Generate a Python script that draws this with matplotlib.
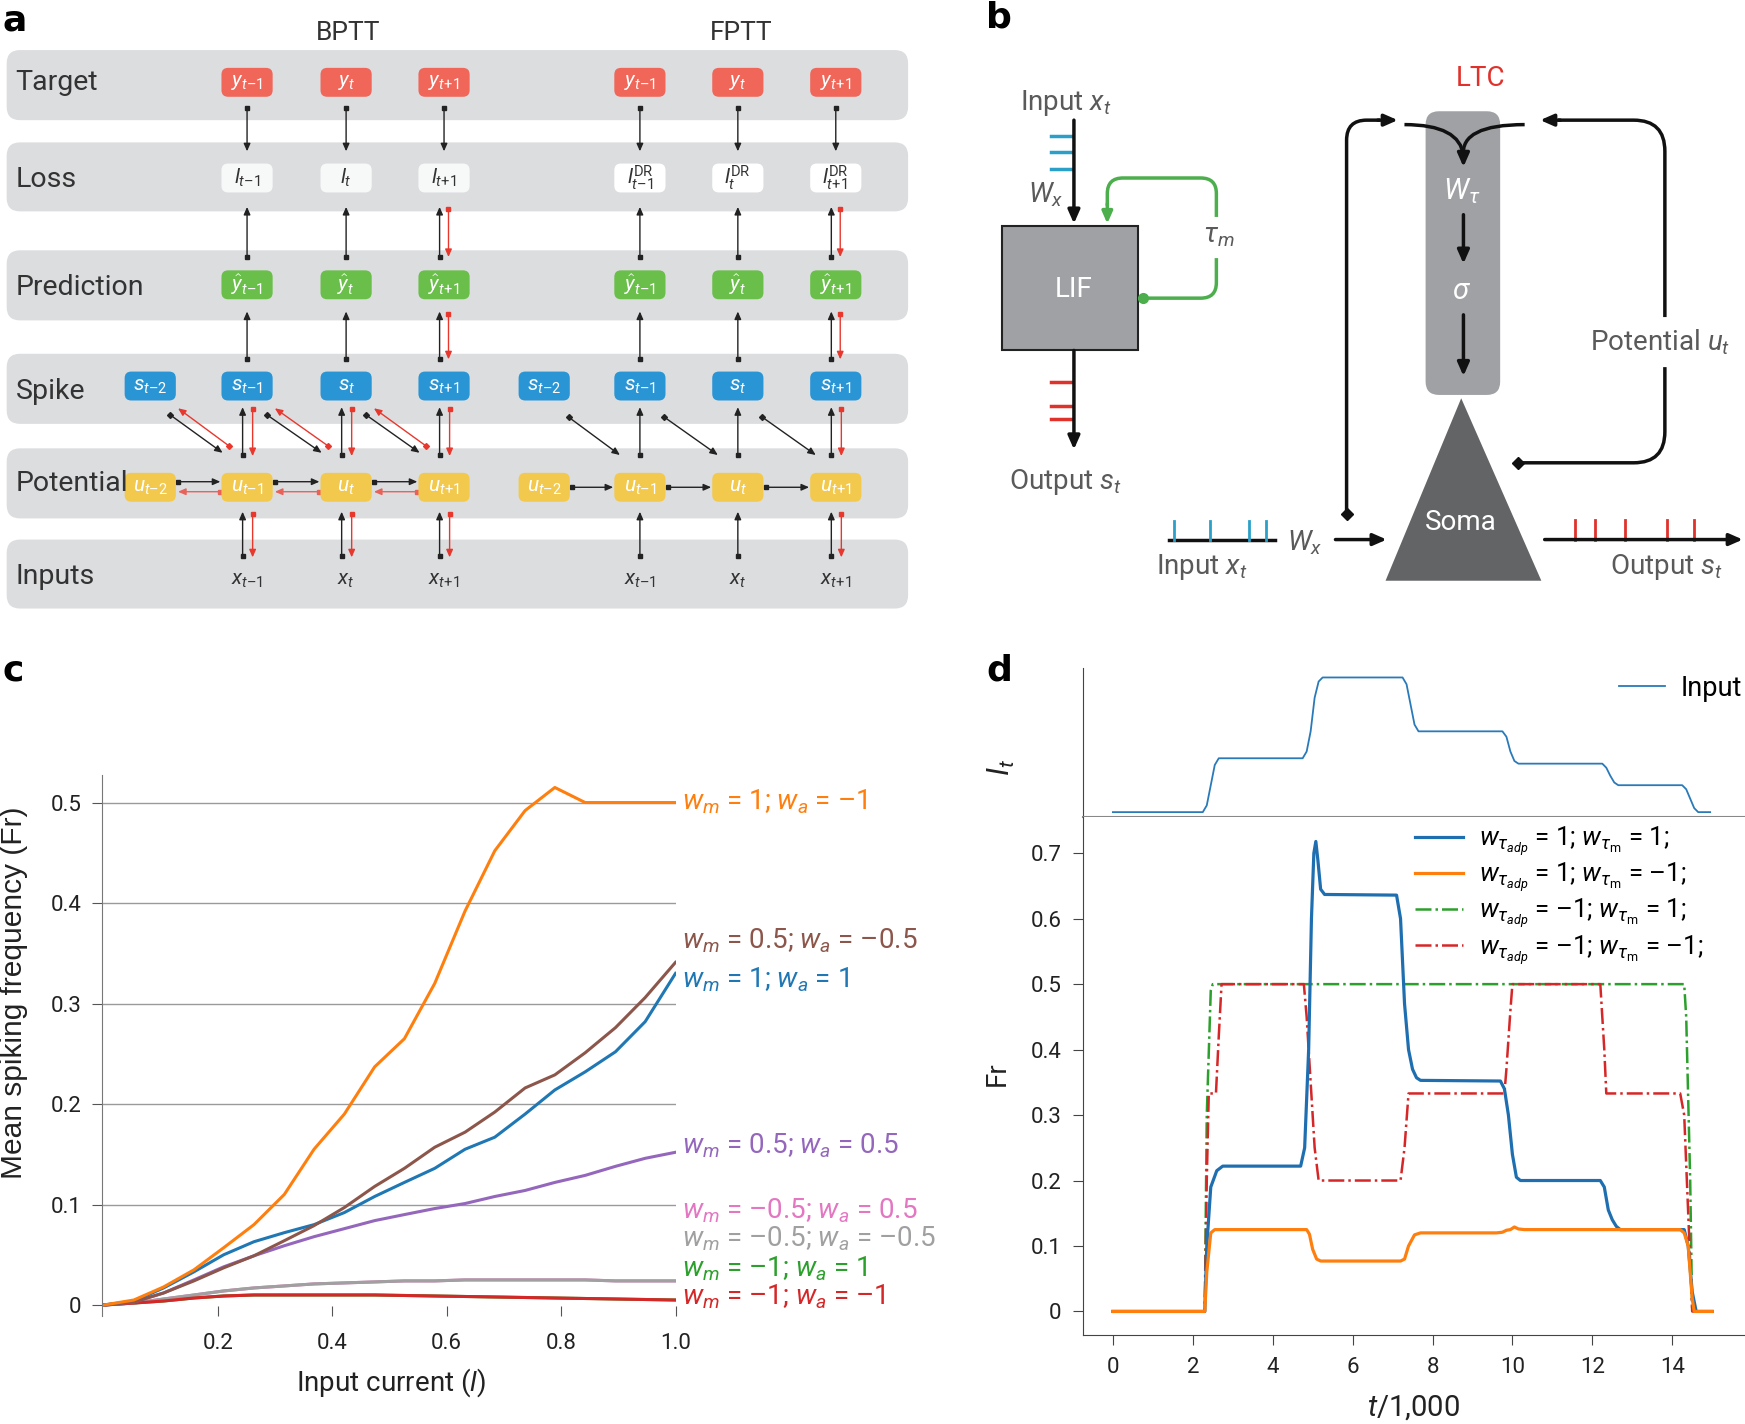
import numpy as np
import matplotlib
matplotlib.use("Agg")
import matplotlib.pyplot as plt
from matplotlib.patches import FancyBboxPatch, Rectangle, Polygon, PathPatch
from matplotlib.path import Path

plt.rcParams["font.family"] = ["Roboto", "DejaVu Sans"]
plt.rcParams["mathtext.fontset"] = "custom"
plt.rcParams["mathtext.rm"] = "Roboto"
plt.rcParams["mathtext.it"] = "Roboto:italic"
plt.rcParams["mathtext.bf"] = "Roboto:bold"

# ---------------- data: panel c ----------------
current = [0.0, 0.053, 0.105, 0.158, 0.21, 0.263, 0.316, 0.368, 0.421, 0.474,
           0.526, 0.579, 0.632, 0.684, 0.737, 0.789, 0.842, 0.895, 0.947, 1.0]
fr_m1_a_m1h = [0, 0.005, 0.018, 0.035, 0.057, 0.08, 0.11, 0.155, 0.19, 0.237,
               0.265, 0.32, 0.392, 0.452, 0.492, 0.515, 0.50, 0.50, 0.50, 0.50]
fr_m05_a_m05 = [0, 0.003, 0.012, 0.024, 0.037, 0.049, 0.064, 0.079, 0.097, 0.118,
                0.136, 0.157, 0.172, 0.192, 0.216, 0.229, 0.251, 0.276, 0.306, 0.341]
fr_m1_a1 = [0, 0.004, 0.017, 0.033, 0.05, 0.063, 0.072, 0.08, 0.092, 0.108,
            0.122, 0.136, 0.155, 0.167, 0.19, 0.214, 0.232, 0.252, 0.282, 0.33]
fr_m05_a05 = [0, 0.003, 0.012, 0.025, 0.038, 0.049, 0.059, 0.068, 0.076, 0.084,
              0.09, 0.096, 0.101, 0.108, 0.114, 0.122, 0.129, 0.138, 0.146, 0.152]
fr_mn05_a05 = [0, 0.002, 0.006, 0.010, 0.014, 0.017, 0.019, 0.021, 0.022, 0.023,
               0.024, 0.024, 0.025, 0.025, 0.025, 0.025, 0.025, 0.024, 0.024, 0.024]
fr_mn05_an05 = [0, 0.002, 0.006, 0.010, 0.014, 0.017, 0.019, 0.021, 0.022, 0.023,
                0.024, 0.024, 0.025, 0.025, 0.025, 0.025, 0.025, 0.024, 0.024, 0.024]
fr_mn1_a1 = [0, 0.002, 0.004, 0.007, 0.009, 0.010, 0.010, 0.010, 0.010, 0.010,
             0.0095, 0.009, 0.0085, 0.008, 0.0075, 0.007, 0.0065, 0.006, 0.0055, 0.005]
fr_mn1_an1 = [0, 0.002, 0.004, 0.007, 0.009, 0.010, 0.010, 0.010, 0.010, 0.010,
              0.0095, 0.009, 0.0085, 0.008, 0.0075, 0.007, 0.0065, 0.006, 0.0055, 0.005]

c_series = [
    (fr_mn05_a05, "#e377c2", r"$w_m$ = –0.5; $w_a$ = 0.5"),
    (fr_mn1_a1, "#2ca02c", r"$w_m$ = –1; $w_a$ = 1"),
    (fr_mn05_an05, "#a0a0a0", r"$w_m$ = –0.5; $w_a$ = –0.5"),
    (fr_mn1_an1, "#d62728", r"$w_m$ = –1; $w_a$ = –1"),
    (fr_m05_a05, "#9467bd", r"$w_m$ = 0.5; $w_a$ = 0.5"),
    (fr_m1_a1, "#1f77b4", r"$w_m$ = 1; $w_a$ = 1"),
    (fr_m05_a_m05, "#8c564b", r"$w_m$ = 0.5; $w_a$ = –0.5"),
    (fr_m1_a_m1h, "#ff7f0e", r"$w_m$ = 1; $w_a$ = –1"),
]

# ---------------- data: panel d ----------------
t_input = [0, 2.25, 2.35, 2.45, 2.55, 2.65, 4.75, 4.85, 4.95, 5.05, 5.15, 5.25,
           7.25, 7.35, 7.45, 7.55, 7.65, 9.75, 9.85, 9.95, 10.05, 10.15,
           12.25, 12.35, 12.45, 12.55, 12.65, 14.25, 14.35, 14.45, 14.55, 14.65, 14.95]
i_input = [0, 0, 0.05, 0.2, 0.35, 0.4, 0.4, 0.45, 0.6, 0.85, 0.97, 1.0,
           1.0, 0.95, 0.8, 0.65, 0.6, 0.6, 0.56, 0.45, 0.38, 0.36,
           0.36, 0.33, 0.27, 0.22, 0.2, 0.2, 0.17, 0.1, 0.03, 0, 0]

t_blue = [0, 2.3, 2.35, 2.45, 2.6, 2.75, 4.7, 4.8, 4.9, 4.97, 5.03, 5.08, 5.13, 5.2, 5.3,
          7.1, 7.2, 7.3, 7.4, 7.5, 7.6, 7.7, 9.7, 9.8, 9.9, 10.0, 10.1, 10.2,
          12.2, 12.3, 12.4, 12.5, 12.6, 12.7, 14.3, 14.4, 14.5, 14.6, 15.0]
fr_blue = [0, 0, 0.1, 0.19, 0.215, 0.222, 0.222, 0.25, 0.4, 0.6, 0.7, 0.718, 0.69, 0.645, 0.637,
           0.636, 0.6, 0.47, 0.40, 0.37, 0.357, 0.353, 0.352, 0.34, 0.3, 0.24, 0.205, 0.2,
           0.2, 0.19, 0.155, 0.14, 0.13, 0.125, 0.125, 0.1, 0.03, 0, 0]
t_orange = [0, 2.3, 2.35, 2.45, 2.55, 4.85, 4.92, 5.0, 5.1, 5.2, 7.2, 7.3, 7.4, 7.55, 7.7,
            9.6, 9.75, 9.85, 9.95, 10.05, 10.15, 10.3, 14.2, 14.3, 14.4, 14.5, 14.55, 15.0]
fr_orange = [0, 0, 0.06, 0.12, 0.125, 0.125, 0.118, 0.095, 0.08, 0.077, 0.077, 0.08, 0.1, 0.117, 0.12,
             0.12, 0.121, 0.124, 0.125, 0.129, 0.126, 0.125, 0.125, 0.12, 0.1, 0.02, 0, 0]
t_green = [0, 2.3, 2.35, 2.45, 2.5, 14.3, 14.35, 14.45, 14.5, 15.0]
fr_green = [0, 0, 0.3, 0.49, 0.5, 0.5, 0.45, 0.2, 0, 0]
t_red = [0, 2.3, 2.35, 2.4, 2.58, 2.65, 2.72, 4.78, 4.85, 4.95, 5.05, 5.15, 7.2, 7.3, 7.4,
         9.8, 9.85, 9.95, 10.0, 12.2, 12.3, 12.35, 14.2, 14.3, 14.4, 14.5, 15.0]
fr_red = [0, 0, 0.2, 0.333, 0.333, 0.42, 0.5, 0.5, 0.45, 0.35, 0.25, 0.2, 0.2, 0.25, 0.333,
          0.333, 0.37, 0.46, 0.5, 0.5, 0.4, 0.333, 0.333, 0.3, 0.15, 0, 0]

d_labels = [r"$w_{\tau_{adp}}$ = 1; $w_{\tau_\mathrm{m}}$ = 1;",
            r"$w_{\tau_{adp}}$ = 1; $w_{\tau_\mathrm{m}}$ = –1;",
            r"$w_{\tau_{adp}}$ = –1; $w_{\tau_\mathrm{m}}$ = 1;",
            r"$w_{\tau_{adp}}$ = –1; $w_{\tau_\mathrm{m}}$ = –1;"]

# ---------------- data: panel a ----------------
rows = ["Target", "Loss", "Prediction", "Spike", "Potential", "Inputs"]
target_lbl = [r"$y_{t–1}$", r"$y_t$", r"$y_{t\!+\!1}$"]
loss_bptt = [r"$l_{t–1}$", r"$l_t$", r"$l_{t\!+\!1}$"]
loss_fptt = [r"$l^{\mathrm{DR}}_{t–1}$", r"$l^{\mathrm{DR}}_t$", r"$l^{\mathrm{DR}}_{t\!+\!1}$"]
pred_lbl = [r"$\hat{y}_{t–1}$", r"$\hat{y}_t$", r"$\hat{y}_{t\!+\!1}$"]
spike_lbl = [r"$s_{t–2}$", r"$s_{t–1}$", r"$s_t$", r"$s_{t\!+\!1}$"]
pot_lbl = [r"$u_{t–2}$", r"$u_{t–1}$", r"$u_t$", r"$u_{t\!+\!1}$"]
inp_lbl = [r"$x_{t–1}$", r"$x_t$", r"$x_{t\!+\!1}$"]

W, H = 1568, 1280
fig = plt.figure(figsize=(17.45, 14.24), dpi=100)
dg = fig.add_axes([0, 0, 1, 1], zorder=0)
dg.set_xlim(0, W)
dg.set_ylim(H, 0)
dg.axis("off")

TXT = "#333333"
BTX = "#5a5a5a"
RED = "#e8382e"
GREEN = "#4cae4c"
INK = "#111111"


def arr(x0, y0, x1, y1, c="#222222", tail="s", lw=1.0, ms=3.5, ms_head=9):
    dg.annotate("", xy=(x1, y1), xytext=(x0, y0),
                arrowprops=dict(arrowstyle="-|>,head_length=0.5,head_width=0.22",
                                color=c, lw=lw, shrinkA=0, shrinkB=0,
                                mutation_scale=ms_head))
    if tail:
        dg.plot([x0], [y0], marker=tail, ms=ms, color=c, mec=c)


def node(x, y, lbl, fc, tc="white", w=46, h=26):
    dg.add_patch(FancyBboxPatch((x - w / 2, y - h / 2), w, h,
                                boxstyle="round,pad=0,rounding_size=6",
                                fc=fc, ec="none", zorder=3))
    dg.text(x, y, lbl, color=tc, ha="center", va="center", fontsize=15, zorder=4)


def rounded(points, r):
    verts = [points[0]]
    codes = [Path.MOVETO]
    for i in range(1, len(points) - 1):
        p0, p1, p2 = (np.array(points[i - 1], float), np.array(points[i], float),
                      np.array(points[i + 1], float))
        d1 = (p1 - p0) / np.linalg.norm(p1 - p0)
        d2 = (p2 - p1) / np.linalg.norm(p2 - p1)
        verts += [p1 - d1 * r, p1, p1 + d2 * r]
        codes += [Path.LINETO, Path.CURVE3, Path.CURVE3]
    verts.append(points[-1])
    codes.append(Path.LINETO)
    return Path(verts, codes)


def btext(x, y, s, **kw):
    kw.setdefault("color", BTX)
    kw.setdefault("fontsize", 20)
    dg.text(x, y, s, ha="center", va="center", **kw)


# ================= panel a =================
dg.text(2, 18, "a", fontsize=26, fontweight="bold", ha="left", va="center",
        family=["DejaVu Sans"])
dg.text(313, 30, "BPTT", fontsize=19, ha="center", va="center", color=TXT)
dg.text(666, 30, "FPTT", fontsize=19, ha="center", va="center", color=TXT)

band_y = [(45, 108), (128, 190), (225, 288), (318, 381), (403, 466), (485, 547)]
label_y = [74, 161, 258, 352, 435, 518]
for (y0, y1), name, ly in zip(band_y, rows, label_y):
    dg.add_patch(FancyBboxPatch((6, y0), 810, y1 - y0,
                                boxstyle="round,pad=0,rounding_size=12",
                                fc="#dcdddf", ec="none", zorder=1))
    dg.text(14, ly, name, fontsize=20.5, ha="left", va="center", color=TXT, zorder=5)

xb = [222, 311, 399]
xf = [575, 663, 751]
for cols in (xb, xf):
    for i, x in enumerate(cols):
        node(x, 74, target_lbl[i], "#f0675a")
        node(x, 256, pred_lbl[i], "#6abf4b")
        node(x, 347, spike_lbl[i + 1], "#2a95d5")
        node(x, 438, pot_lbl[i + 1], "#f2c94c")
        dg.text(x, 522, inp_lbl[i], fontsize=15, ha="center", va="center", color=TXT)
for i, x in enumerate(xb):
    node(x, 160, loss_bptt[i], "#f7f8f8", tc=TXT)
for i, x in enumerate(xf):
    node(x, 160, loss_fptt[i], "white", tc=TXT)
for x0 in (135, 489):
    node(x0, 347, spike_lbl[0], "#2a95d5")
    node(x0, 438, pot_lbl[0], "#f2c94c")

for cols, bptt in ((xb, True), (xf, False)):
    for i, x in enumerate(cols):
        last = i == 2
        arr(x, 97, x, 136)
        for (ya, yb) in ((231, 186), (323, 280)):
            if last:
                arr(x - 4, ya, x - 4, yb)
                arr(x + 4, yb + 2, x + 4, ya, c=RED)
            else:
                arr(x, ya, x, yb)
        for (ya, yb) in ((409, 366), (500, 460)):
            if bptt or last:
                arr(x - 4, ya, x - 4, yb)
                arr(x + 5, yb + 2, x + 5, ya + 1, c=RED)
            else:
                arr(x, ya, x, yb)

for sx, ux in zip([135, 222, 311], xb):
    arr(sx + 18, 373, ux - 22, 407, tail="D", ms=3)
    arr(ux - 16, 401, sx + 25, 367, c=RED, tail="D", ms=3)
    arr(sx + 25, 433, ux - 24, 433)
    arr(ux - 24, 442, sx + 25, 442, c="#e8625a")
for sx, ux in zip([489, 575, 663], xf):
    arr(sx + 22, 375, ux - 18, 409, tail="D", ms=3)
    arr(sx + 25, 438, ux - 24, 438)

# ================= panel b =================
dg.text(886, 16, "b", fontsize=26, fontweight="bold", ha="left", va="center",
        family=["DejaVu Sans"])
# LIF
dg.add_patch(Rectangle((900, 203), 123, 112, fc="#a0a1a5", ec="#222222", lw=1.5, zorder=2))
btext(965, 260, "LIF", color="white", zorder=3)
btext(958, 93, r"Input $x_t$")
btext(940, 175, r"$W_x$")
btext(957, 433, r"Output $s_t$")
arr(965, 108, 965, 201, c=INK, tail=None, lw=2.5, ms_head=16)
arr(965, 315, 965, 404, c=INK, tail=None, lw=2.5, ms_head=16)
for yy in (122, 137, 152):
    dg.plot([944, 962], [yy, yy], color="#2aa0c8", lw=2.5)
for yy in (343, 365, 377):
    dg.plot([944, 962], [yy, yy], color="#e0312a", lw=2.5)
dg.add_patch(PathPatch(rounded([(1027, 268), (1093, 268), (1093, 232)], 14),
                       fill=False, ec=GREEN, lw=2.5))
dg.add_patch(PathPatch(rounded([(1093, 195), (1093, 160), (995, 160), (995, 185)], 14),
                       fill=False, ec=GREEN, lw=2.5))
arr(995, 183, 995, 201, c=GREEN, tail=None, lw=2.5, ms_head=14)
dg.plot([1027], [268], "o", color=GREEN, ms=7)
btext(1095, 212, r"$\tau_m$")

# LTC
btext(1330, 71, "LTC", color="#e0312a")
dg.add_patch(FancyBboxPatch((1281, 100), 67, 255, boxstyle="round,pad=0,rounding_size=12",
                            fc="#a0a1a5", ec="none", zorder=1))
btext(1313, 172, r"$W_\tau$", color="white", fontsize=21, zorder=3)
btext(1313, 262, r"$\sigma$", color="white", fontsize=21, zorder=3)
arr(1315, 193, 1315, 237, c=INK, tail=None, lw=2.5, ms_head=16)
arr(1315, 283, 1315, 338, c=INK, tail=None, lw=2.5, ms_head=16)
for xs in (1262, 1370):
    dg.add_patch(PathPatch(Path([(xs, 112), (1312, 112), (1315, 140)],
                                [Path.MOVETO, Path.CURVE3, Path.CURVE3]),
                           fill=False, ec=INK, lw=2.5, zorder=3))
arr(1315, 135, 1315, 150, c=INK, tail=None, lw=2.5, ms_head=16)
dg.add_patch(PathPatch(rounded([(1210, 462), (1210, 108), (1240, 108)], 18),
                       fill=False, ec=INK, lw=2.5))
arr(1238, 108, 1256, 108, c=INK, tail=None, lw=2.5, ms_head=16)
dg.plot([1210], [462], "D", color=INK, ms=6)
dg.add_patch(PathPatch(rounded([(1365, 416), (1496, 416), (1496, 330)], 28),
                       fill=False, ec=INK, lw=2.5))
dg.add_patch(PathPatch(rounded([(1496, 285), (1496, 108), (1400, 108)], 28),
                       fill=False, ec=INK, lw=2.5))
arr(1402, 108, 1384, 108, c=INK, tail=None, lw=2.5, ms_head=16)
dg.plot([1364], [416], "D", color=INK, ms=6)
btext(1492, 308, r"Potential $u_t$")
dg.add_patch(Polygon([(1313, 358), (1245, 522), (1385, 522)], closed=True,
                     fc="#636466", ec="none", zorder=2))
btext(1313, 470, "Soma", color="white", zorder=3)
dg.plot([1050, 1146], [485, 485], color=INK, lw=2.5)
for xx in (1055, 1087, 1122, 1138):
    dg.plot([xx, xx], [468, 485], color="#2aa0c8", lw=2)
btext(1080, 510, r"Input $x_t$")
btext(1172, 488, r"$W_x$")
arr(1200, 485, 1246, 485, c=INK, tail=None, lw=2.5, ms_head=16)
arr(1388, 485, 1566, 485, c=INK, tail=None, lw=2.5, ms_head=16)
for xx in (1415, 1433, 1460, 1498, 1522):
    dg.plot([xx, xx], [467, 485], color="#e0312a", lw=2)
btext(1497, 510, r"Output $s_t$")

# ================= panel c =================
dg.text(2, 603, "c", fontsize=26, fontweight="bold", ha="left", va="center",
        family=["DejaVu Sans"])
axc = fig.add_axes([92 / W, 1 - 1183 / H, 515 / W, 486 / H])
for yv in [0.1, 0.2, 0.3, 0.4, 0.5]:
    axc.axhline(yv, color="#9a9a9a", lw=1.0, zorder=0)
for ys, col, lbl in c_series:
    axc.plot(current, ys, color=col, lw=2.2)
label_pos = {"#ff7f0e": 0.501, "#8c564b": 0.362, "#1f77b4": 0.324, "#9467bd": 0.158,
             "#e377c2": 0.094, "#a0a0a0": 0.066, "#2ca02c": 0.036, "#d62728": 0.008}
for ys, col, lbl in c_series:
    axc.text(1.012, label_pos[col], lbl, color=col, fontsize=20, ha="left",
             va="center", clip_on=False)
axc.set_xlim(-0.002, 1.0)
axc.set_ylim(-0.011, 0.527)
axc.set_xticks([0.2, 0.4, 0.6, 0.8, 1.0])
axc.set_xticklabels(["0.2", "0.4", "0.6", "0.8", "1.0"])
axc.set_yticks([0, 0.1, 0.2, 0.3, 0.4, 0.5])
axc.set_yticklabels(["0", "0.1", "0.2", "0.3", "0.4", "0.5"])
axc.tick_params(labelsize=16, length=7, color="#555555", labelcolor="#222222")
axc.tick_params(axis="x", direction="in", pad=12)
axc.tick_params(axis="y", pad=8)
for s in ("top", "right", "bottom"):
    axc.spines[s].set_visible(False)
axc.spines["left"].set_color("#777777")
dg.text(351, 1243, r"Input current ($l$)", fontsize=20, color="#222222",
        ha="center", va="center")
dg.text(13, 892, "Mean spiking frequency (Fr)", fontsize=21.5, color="#222222",
        ha="center", va="center", rotation=90, family=["Liberation Sans", "DejaVu Sans"])

# ================= panel d =================
dg.text(886, 603, "d", fontsize=26, fontweight="bold", ha="left", va="center",
        family=["DejaVu Sans"])
x_left = 973
xlo = -(1000 - x_left) / 35.9
xhi = (W - 1000) / 35.9
axt = fig.add_axes([x_left / W, 1 - 734 / H, 1 - x_left / W, 134 / H])
axt.plot(t_input, i_input, color="#2a7ab9", lw=1.3, label="Input")
axt.set_xlim(xlo, xhi)
axt.set_ylim(-0.033, 1.074)
axt.set_xticks([])
axt.set_yticks([])
for s in ("top", "right"):
    axt.spines[s].set_visible(False)
axt.spines["bottom"].set_color("#888888")
axt.spines["bottom"].set_linewidth(1.5)
axt.spines["left"].set_color("#444444")
axt.legend(loc="upper right", bbox_to_anchor=(1.0, 0.97), borderaxespad=0, borderpad=0.1,
           frameon=False, fontsize=19.5, handlelength=1.7, handletextpad=0.6)
dg.text(900, 690, r"$I_t$", fontsize=22, color="#222222", ha="center", va="center",
        rotation=90)

axd = fig.add_axes([x_left / W, 1 - 1200 / H, 1 - x_left / W, 466 / H])
axd.plot(t_blue, fr_blue, color="#1f6fb0", lw=2.3, label=d_labels[0], zorder=3)
axd.plot(t_green, fr_green, color="#2ca02c", lw=1.8, ls="-.", label=d_labels[2], zorder=2)
axd.plot(t_red, fr_red, color="#d62728", lw=1.8, ls="-.", label=d_labels[3], zorder=2)
axd.plot(t_orange, fr_orange, color="#ff7f0e", lw=2.3, label=d_labels[1], zorder=4)
axd.set_xlim(xlo, xhi)
axd.set_ylim(-0.036, 0.756)
axd.set_xticks([0, 2, 4, 6, 8, 10, 12, 14])
axd.set_yticks([0, 0.1, 0.2, 0.3, 0.4, 0.5, 0.6, 0.7])
axd.set_yticklabels(["0", "0.1", "0.2", "0.3", "0.4", "0.5", "0.6", "0.7"])
axd.tick_params(labelsize=16, length=7.5, pad=8, color="#444444", labelcolor="#222222")
for s in ("top", "right"):
    axd.spines[s].set_visible(False)
for s in ("left", "bottom"):
    axd.spines[s].set_color("#444444")
dg.text(1270, 1265, r"$t$/1,000", fontsize=21, color="#222222", ha="center", va="center")
dg.text(896, 965, "Fr", fontsize=20, color="#222222", ha="center", va="center", rotation=90)
h, l = axd.get_legend_handles_labels()
order = [0, 3, 1, 2]
axd.legend([h[i] for i in order], [l[i] for i in order], loc="upper left",
           bbox_to_anchor=(0.466, 1.03), frameon=False, fontsize=18.5,
           handlelength=1.9, handletextpad=0.6, labelspacing=0.1)

fig.savefig("out.png", dpi=100)
